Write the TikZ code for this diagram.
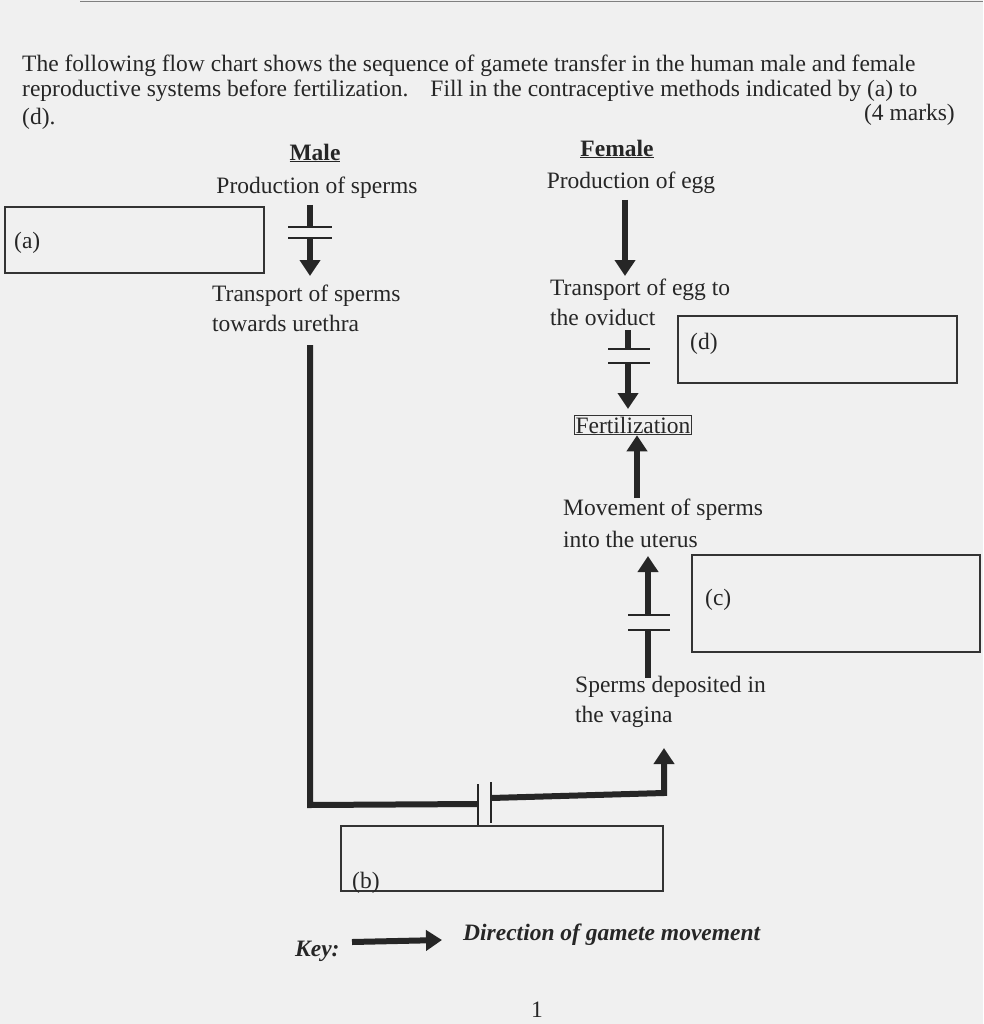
\documentclass[tikz,border=0pt]{standalone}
\usepackage{fontspec}
\setmainfont{Liberation Serif}
\usetikzlibrary{arrows.meta}
\begin{document}
\begin{tikzpicture}[x=1pt,y=-1pt,
  txt/.style={font=\fontsize{23.5}{28}\selectfont,text=black!85,inner sep=0pt},
  lt/.style={txt,anchor=west},
  box/.style={draw=black!80,line width=1.2pt},
  flow/.style={line width=6pt,draw=black!85,-{Triangle[width=20pt,length=16pt]}},
  bar/.style={line width=1.5pt,draw=black!85}]
\fill[black!6] (0,0) rectangle (983,1024);
\useasboundingbox (0,0) rectangle (983,1024);
\draw[black!50,line width=1pt] (80,2)--(983,2);
% header
\node[lt] (h1) at (22,66) {The following flow chart shows the sequence of gamete transfer in the human male and female};
\node[lt] (h2) at (22,91) {reproductive systems before fertilization.\hspace{0.6em} Fill in the contraceptive methods indicated by (a) to};
\node[lt] (h3) at (22,119) {(d).};
\node[txt,anchor=east] (mk) at (955,115) {(4 marks)};
% headings
\node[txt] (male) at (315,153) {\underline{\textbf{Male}}};
\node[txt] (ps) at (317,188) {Production of sperms};
\node[txt] (fem) at (617,149) {\underline{\textbf{Female}}};
\node[txt] (pe) at (631,183) {Production of egg};
% box a
\node[box,minimum width=259,minimum height=66,inner sep=0] (ba) at (134.5,240) {};
\node[lt] (la) at (14,243) {(a)};
% blocked arrow male
\coordinate (m1) at (310,205);
\coordinate (m2) at (310,276);
\draw[line width=6pt,black!85] (m1) -- (310,226);
\draw[flow] (310,238) -- (m2);
\draw[bar] (288,227) -- (332,227);
\draw[bar] (288,238) -- (332,238);
% female arrow 1
\coordinate (f1) at (625,200);
\coordinate (f2) at (625,276);
\draw[flow] (f1) -- (f2);
\node[lt] (ts1) at (212,296) {Transport of sperms};
\node[lt] (ts2) at (212,323) {towards urethra};
\node[lt] (te1) at (550,290) {Transport of egg to};
\node[lt] (te2) at (550,317) {the oviduct};
% box d
\node[box,minimum width=279,minimum height=67,inner sep=0] (bd) at (817.5,349.5) {};
\node[lt] (ld) at (690,344) {(d)};
% blocked arrow to fertilization
\draw[line width=6pt,black!85] (628,330) -- (628,348);
\draw[flow] (628,363) -- (628,409);
\draw[bar] (608,349) -- (650,349);
\draw[bar] (608,363) -- (650,363);
\node[txt,draw=black!80,line width=1pt,inner sep=1.5pt] (fz) at (633,425) {Fertilization};
% up arrow
\coordinate (u1) at (637,498);
\draw[flow] (u1) -- (fz.south -| u1);
\node[lt] (mv1) at (563,510) {Movement of sperms};
\node[lt] (mv2) at (563,539) {into the uterus};
% blocked up arrow
\draw[flow] (648,614) -- (648,556);
\draw[line width=6pt,black!85] (648,630) -- (648,678);
\draw[bar] (628,615) -- (670,615);
\draw[bar] (628,630) -- (670,630);
\node[box,minimum width=288,minimum height=97,inner sep=0] (bc) at (836,603.5) {};
\node[lt] (lc) at (705,600) {(c)};
\node[lt] (sd1) at (575,687) {Sperms deposited in};
\node[lt] (sd2) at (575,717) {the vagina};
% long path
\draw[line width=6pt,black!85,line join=miter] (310,345) -- (310,805) -- (478,804);
\draw[line width=6pt,black!85,-{Triangle[width=20pt,length=16pt]}] (491,798) -- (664,793) -- (664,748);
\draw[bar] (478,784) -- (478,825);
\draw[bar] (491,782) -- (491,823);
% box b
\node[box,minimum width=322,minimum height=65,inner sep=0] (bb) at (502,858.5) {};
\node[lt] (lb) at (352,883) {(b)};
% key
\node[txt,anchor=west] (key) at (295,951) {\textbf{\textit{Key:}}};
\draw[flow] (352,942) -- (442,940);
\node[lt] (dg) at (463,935) {\textbf{\textit{Direction of gamete movement}}};
\node[txt,anchor=south] (pg) at (537,1018) {1};
\end{tikzpicture}
\end{document}
